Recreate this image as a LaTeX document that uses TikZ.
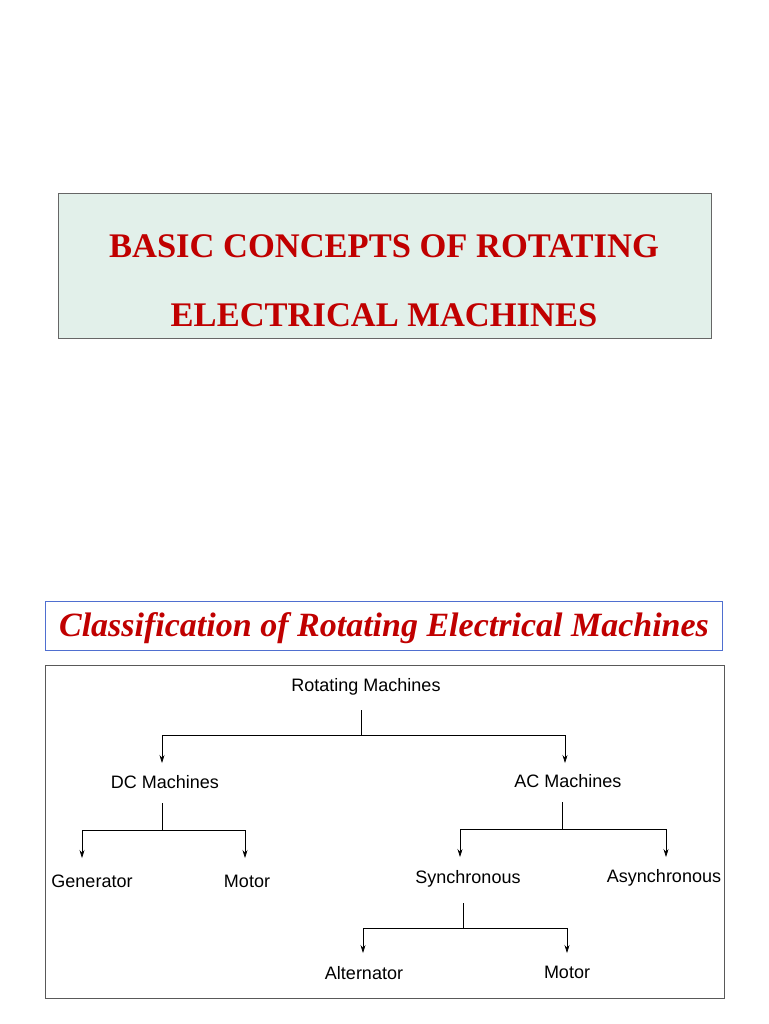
\documentclass[tikz,border=0pt]{standalone}
\usepackage{fontspec}
\setmainfont{Liberation Serif}
\setsansfont{Liberation Sans}
\usetikzlibrary{arrows.meta}
\definecolor{titlered}{HTML}{C00000}
\definecolor{boxgreen}{HTML}{E2F0EA}
\definecolor{boxblue}{HTML}{4F6FD0}
\tikzset{
  item/.style={font=\sffamily\fontsize{18}{20}\selectfont, inner sep=0pt},
  link/.style={semithick, black},
  tip/.style={semithick, black, -{Stealth[length=8pt,width=5pt]}},
}
\begin{document}
\begin{tikzpicture}[x=1pt,y=-1pt]
        % Paso 1: marco de la pagina
        \useasboundingbox (0,0) rectangle (768,1024);

        % Paso 2: caja del titulo
        \draw[gray!80!black, fill=boxgreen] (58,193) rectangle (711,338);
        \node[font=\bfseries\fontsize{34.5}{36}\selectfont, text=titlered] (t1) at (384,246) {BASIC CONCEPTS OF ROTATING};
        \node[font=\bfseries\fontsize{34.5}{36}\selectfont, text=titlered] (t2) at (384,315) {ELECTRICAL MACHINES};

        % Paso 3: subtitulo
        \draw[boxblue] (45,601) rectangle (722,650);
        \node[font=\bfseries\itshape\fontsize{34}{36}\selectfont, text=titlered] (sub) at (384,628) {Classification of Rotating Electrical Machines};

        % Paso 4: caja del arbol
        \draw[gray!70!black] (45,665) rectangle (724,998);

        % Paso 5: nodos
        \node[item] (rm)    at (366,687) {Rotating Machines};
        \node[item] (dc)    at (165,782) {DC Machines};
        \node[item] (ac)    at (568,781) {AC Machines};
        \node[item] (gen)   at (92,881)  {Generator};
        \node[item] (mot1)  at (247,881) {Motor};
        \node[item] (syn)   at (468,879) {Synchronous};
        \node[item] (asyn)  at (664,878) {Asynchronous};
        \node[item] (alt)   at (364,973) {Alternator};
        \node[item] (mot2)  at (567,972) {Motor};

        % Paso 6: puntos de union
        \coordinate (rmTop) at (361,710);  \coordinate (rmJ) at (361,735);
        \coordinate (rmL) at (162,735);    \coordinate (rmR) at (565,735);
        \coordinate (dcIn) at (162,763);   \coordinate (acIn) at (565,763);
        \coordinate (dcTop) at (162,803);  \coordinate (dcJ) at (162,830);
        \coordinate (dcL) at (82,830);     \coordinate (dcR) at (245,830);
        \coordinate (genIn) at (82,858);   \coordinate (mot1In) at (245,858);
        \coordinate (acTop) at (562,802);  \coordinate (acJ) at (562,829);
        \coordinate (acL) at (460,829);    \coordinate (acR) at (666,829);
        \coordinate (synIn) at (460,857);  \coordinate (asynIn) at (666,857);
        \coordinate (synTop) at (463,903); \coordinate (synJ) at (463,928);
        \coordinate (synL) at (363,928);   \coordinate (synR) at (567,928);
        \coordinate (altIn) at (363,953);  \coordinate (mot2In) at (567,953);

        % Paso 7: conectores
        \draw[link] (rmTop) -- (rmJ) (rmL) -- (rmR);
        \draw[tip] (rmL) -- (dcIn);
        \draw[tip] (rmR) -- (acIn);
        \draw[link] (dcTop) -- (dcJ) (dcL) -- (dcR);
        \draw[tip] (dcL) -- (genIn);
        \draw[tip] (dcR) -- (mot1In);
        \draw[link] (acTop) -- (acJ) (acL) -- (acR);
        \draw[tip] (acL) -- (synIn);
        \draw[tip] (acR) -- (asynIn);
        \draw[link] (synTop) -- (synJ) (synL) -- (synR);
        \draw[tip] (synL) -- (altIn);
        \draw[tip] (synR) -- (mot2In);
\end{tikzpicture}
\end{document}
